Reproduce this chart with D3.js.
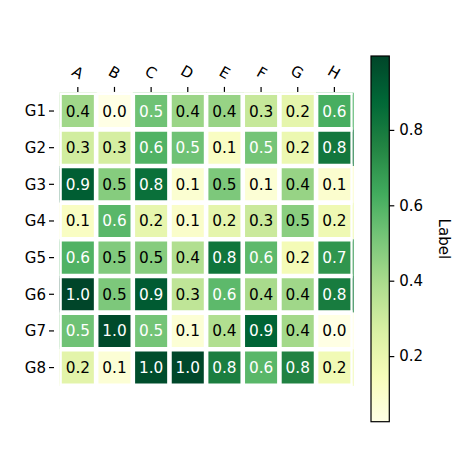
<!DOCTYPE html>
<html>
<head>
<meta charset="utf-8">
<script src="https://cdn.jsdelivr.net/npm/d3@7"></script>
<style>
  body { margin: 0; background: white; }
  svg { display: block; }
</style>
</head>
<body>
<div id="chart"></div>
<script>
// chart data
const columns = ["A", "B", "C", "D", "E", "F", "G", "H"];
const rowLabels = ["G1", "G2", "G3", "G4", "G5", "G6", "G7", "G8"];

const g1 = [0.42, 0.026, 0.53, 0.43, 0.44, 0.32, 0.22, 0.62];
const g2 = [0.29, 0.28, 0.60, 0.53, 0.12, 0.52, 0.19, 0.81];
const g3 = [0.91, 0.48, 0.84, 0.08, 0.50, 0.07, 0.44, 0.09];
const g4 = [0.12, 0.58, 0.21, 0.10, 0.22, 0.31, 0.47, 0.18];
const g5 = [0.60, 0.49, 0.48, 0.38, 0.82, 0.57, 0.16, 0.70];
const g6 = [0.996, 0.50, 0.92, 0.34, 0.57, 0.40, 0.42, 0.79];
const g7 = [0.53, 0.98, 0.52, 0.07, 0.38, 0.89, 0.41, 0.03];
const g8 = [0.23, 0.07, 0.97, 0.99, 0.78, 0.58, 0.76, 0.17];

const colorbarTicks = [0.2, 0.4, 0.6, 0.8];
const colorbarLabel = "Label";

// YlGn colormap (colorbrewer, linear segments like matplotlib)
const ylgn = ["#ffffe5", "#f7fcb9", "#d9f0a3", "#addd8e", "#78c679",
              "#41ab5d", "#238443", "#006837", "#004529"];

function buildChart() {
  const width = 474;
  const height = 474;
  const font = "DejaVu Sans, Liberation Sans, sans-serif";

  const grid = [g1, g2, g3, g4, g5, g6, g7, g8];
  const cells = [];
  grid.forEach((row, i) => row.forEach((v, j) => cells.push({ row: rowLabels[i], col: columns[j], value: v })));

  const [vmin, vmax] = d3.extent(cells, d => d.value);

  const cmap = d3.scaleLinear()
    .domain(d3.range(ylgn.length).map(i => i / (ylgn.length - 1)))
    .range(ylgn)
    .interpolate(d3.interpolateRgb)
    .clamp(true);
  const norm = d3.scaleLinear().domain([vmin, vmax]);
  const color = v => cmap(norm(v));
  const threshold = 0.5; // normalised

  // heatmap area
  const x0 = 59.5, y0 = 92.7, side = 293.2;
  const x = d3.scaleBand().domain(columns).range([x0, x0 + side]);
  const y = d3.scaleBand().domain(rowLabels).range([y0, y0 + side]);

  const svg = d3.create("svg")
    .attr("width", width)
    .attr("height", height)
    .attr("viewBox", [0, 0, width, height])
    .attr("style", `font-family: ${font};`);

  svg.append("rect").attr("width", width).attr("height", height).attr("fill", "white");

  const defs = svg.append("defs");
  defs.append("clipPath").attr("id", "axclip")
    .append("rect")
    .attr("x", x0).attr("y", y0)
    .attr("width", side).attr("height", side);

  const g = svg.append("g");

  g.append("g")
    .selectAll("rect")
    .data(cells)
    .join("rect")
    .attr("x", d => x(d.col))
    .attr("y", d => y(d.row))
    .attr("width", x.bandwidth() + 1)
    .attr("height", y.bandwidth())
    .attr("fill", d => color(d.value));

  // white minor grid between cells
  const gridLines = g.append("g")
    .attr("clip-path", "url(#axclip)")
    .attr("stroke", "white")
    .attr("stroke-width", 4.6);
  const xEdges = columns.map(c => x(c)).concat([x0 + side]);
  const yEdges = rowLabels.map(r => y(r)).concat([y0 + side]);
  gridLines.selectAll(".vx")
    .data(xEdges)
    .join("line")
    .attr("x1", d => d).attr("x2", d => d)
    .attr("y1", y0).attr("y2", y0 + side);
  gridLines.selectAll(".hy")
    .data(yEdges)
    .join("line")
    .attr("y1", d => d).attr("y2", d => d)
    .attr("x1", x0).attr("x2", x0 + side);

  // annotations
  g.append("g")
    .attr("text-anchor", "middle")
    .attr("font-size", 15.3)
    .selectAll("text")
    .data(cells)
    .join("text")
    .attr("x", d => x(d.col) + x.bandwidth() / 2)
    .attr("y", d => y(d.row) + y.bandwidth() / 2)
    .attr("dy", "0.36em")
    .attr("fill", d => norm(d.value) > threshold ? "white" : "black")
    .text(d => d.value.toFixed(1));

  // top axis
  const tickLen = 5, tickPad = 5;
  const topAxis = svg.append("g").attr("font-size", 15);
  topAxis.selectAll("line")
    .data(columns)
    .join("line")
    .attr("x1", d => x(d) + x.bandwidth() / 2)
    .attr("x2", d => x(d) + x.bandwidth() / 2)
    .attr("y1", y0 - 0.8).attr("y2", y0 - 0.8 - tickLen)
    .attr("stroke", "black").attr("stroke-width", 1.2);
  topAxis.selectAll("text")
    .data(columns)
    .join("text")
    .attr("transform", d => `translate(${x(d) + x.bandwidth() / 2},${y0 - tickLen - tickPad}) rotate(30)`)
    .attr("text-anchor", "end")
    .attr("dy", "-0.24em")
    .text(d => d);

  // left axis
  const leftAxis = svg.append("g").attr("font-size", 15);
  leftAxis.selectAll("line")
    .data(rowLabels)
    .join("line")
    .attr("y1", d => y(d) + y.bandwidth() / 2)
    .attr("y2", d => y(d) + y.bandwidth() / 2)
    .attr("x1", x0 - 5.5).attr("x2", x0 - 5.5 - tickLen)
    .attr("stroke", "black").attr("stroke-width", 1.2);
  leftAxis.selectAll("text")
    .data(rowLabels)
    .join("text")
    .attr("x", x0 - 5.5 - tickLen - 3)
    .attr("y", d => y(d) + y.bandwidth() / 2)
    .attr("dy", "0.36em")
    .attr("text-anchor", "end")
    .text(d => d);

  // colorbar
  const cbX = 371, cbW = 18.3, cbTop = 56, cbBottom = 421.7;
  const cbScale = d3.scaleLinear().domain([vmin, vmax]).range([cbBottom, cbTop]);

  const grad = defs.append("linearGradient")
    .attr("id", "cbgrad")
    .attr("x1", 0).attr("y1", 1).attr("x2", 0).attr("y2", 0);
  grad.selectAll("stop")
    .data(d3.range(0, 1.0001, 0.02))
    .join("stop")
    .attr("offset", d => d)
    .attr("stop-color", d => cmap(d));

  svg.append("rect")
    .attr("x", cbX).attr("y", cbTop)
    .attr("width", cbW).attr("height", cbBottom - cbTop)
    .attr("fill", "url(#cbgrad)")
    .attr("stroke", "black")
    .attr("stroke-width", 1.2);

  const cbAxis = svg.append("g")
    .attr("transform", `translate(${cbX + cbW},0)`)
    .call(d3.axisRight(cbScale).tickValues(colorbarTicks).tickSize(tickLen).tickPadding(tickPad).tickFormat(d3.format(".1f")));
  cbAxis.select(".domain").remove();
  cbAxis.selectAll(".tick line").attr("stroke-width", 1.2);
  cbAxis.selectAll(".tick text")
    .attr("font-size", 15)
    .attr("font-family", font)
    .attr("fill", "black");

  svg.append("text")
    .attr("transform", `translate(439,${(cbTop + cbBottom) / 2}) rotate(90)`)
    .attr("text-anchor", "middle")
    .attr("font-size", 15)
    .text(colorbarLabel);

  d3.select("#chart").append(() => svg.node());
}

buildChart();
</script>
</body>
</html>
